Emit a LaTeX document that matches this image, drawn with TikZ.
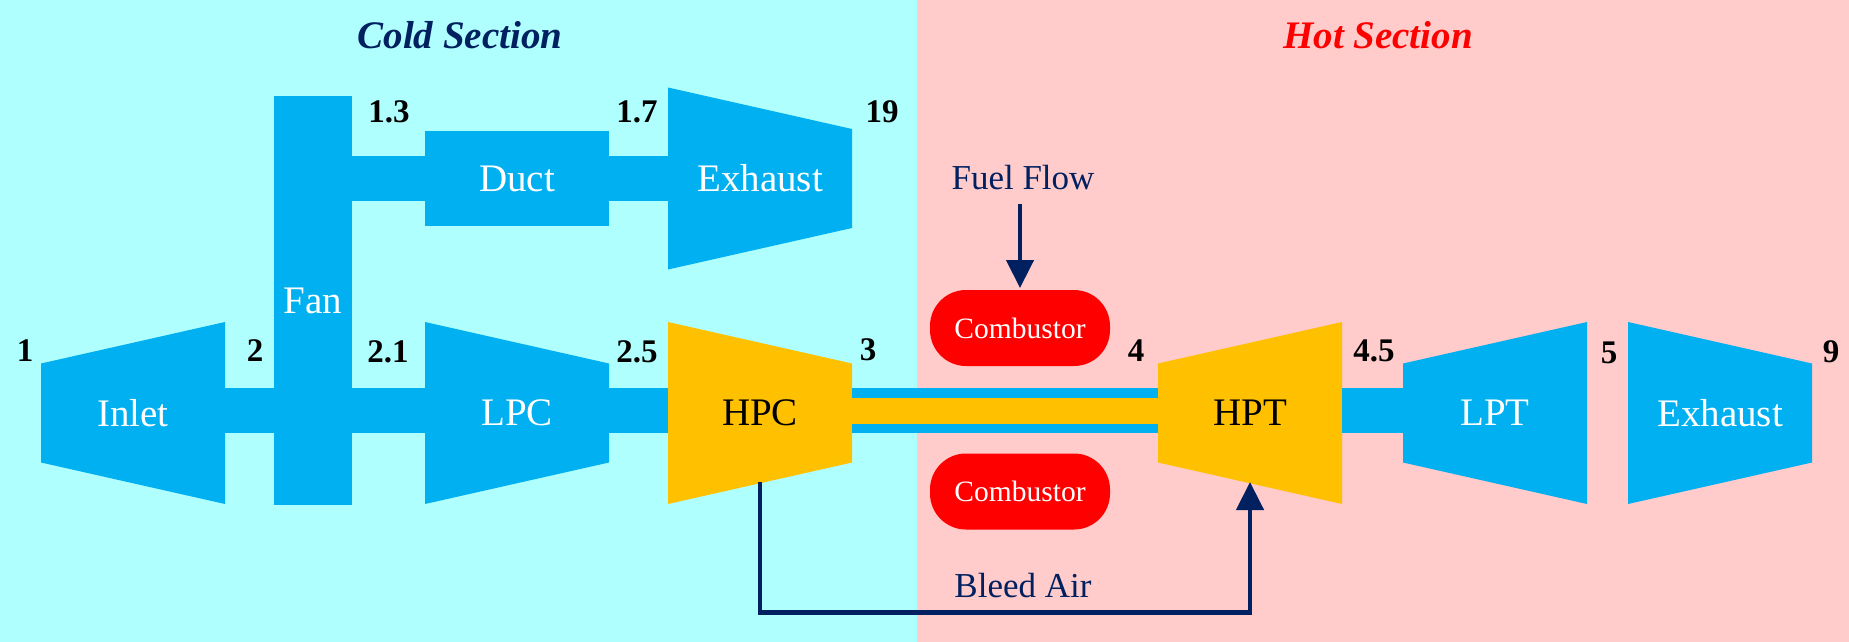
\documentclass[tikz,border=0pt]{standalone}
\usepackage{fontspec}
\setmainfont{Liberation Serif}
\usepackage{tikz}
\usetikzlibrary{positioning}
\usetikzlibrary{arrows.meta}
\definecolor{ColdFill}{HTML}{AFFFFF}
\definecolor{HotFill}{HTML}{FFCBCB}
\definecolor{SpoolBlue}{HTML}{00B0F0}
\definecolor{CoreAmber}{HTML}{FFC000}
\definecolor{DeepNavy}{HTML}{002060}
\tikzset{
  section/.style={rectangle, anchor=north west, minimum height=642pt, inner sep=0pt, outer sep=0pt},
  title/.style={font=\fontsize{39}{39}\selectfont\bfseries\itshape},
  station/.style={font=\fontsize{33}{33}\selectfont\bfseries, text=black},
  flowtext/.style={font=\fontsize{35}{35}\selectfont, text=DeepNavy, outer sep=10pt},
  partname/.style={text=white, font=\fontsize{39}{39}\selectfont},
  tube/.style={rectangle, minimum width=184pt, minimum height=182pt, inner sep=0pt, outer sep=0pt, partname},
  widening/.style={tube, path picture={\fill[#1] ([yshift=-41.5pt]path picture bounding box.north west)
    -- (path picture bounding box.north east) -- (path picture bounding box.south east)
    -- ([yshift=41.5pt]path picture bounding box.south west) -- cycle;}},
  widening/.default=SpoolBlue,
  narrowing/.style={tube, path picture={\fill[#1] (path picture bounding box.north west)
    -- ([yshift=-41.5pt]path picture bounding box.north east) -- ([yshift=41.5pt]path picture bounding box.south east)
    -- (path picture bounding box.south west) -- cycle;}},
  narrowing/.default=SpoolBlue,
  corename/.style={text=black},
  block/.style={rectangle, inner sep=0pt, outer sep=0pt, fill=SpoolBlue, partname},
  burner/.style={rectangle, rounded corners=36pt, minimum width=180pt, minimum height=76pt, inner sep=0pt, outer sep=0pt,
    fill=red, text=white, font=\fontsize{29.5}{30}\selectfont},
  shaft/.style={line width=45pt, color=SpoolBlue},
  core/.style={line width=26pt, color=CoreAmber},
  flow/.style={line width=4.5pt, color=DeepNavy, -{Triangle[width=27pt,length=28pt]}},
}
\begin{document}
\begin{tikzpicture}[x=1pt, y=-1pt]
\useasboundingbox (0,0) rectangle (1849,642);
\node[section, fill=ColdFill, minimum width=917pt] (cold) at (0,0) {};
\node[section, fill=HotFill, minimum width=932pt] (hot) at (917,0) {};
\node[title, text=DeepNavy] (coldname) at (460,35) {Cold Section};
\node[title, text=red] (hotname) at (1378,35) {Hot Section};
% main row
\node[widening] (inlet) at (133,413) {Inlet};
\node[block, right=49pt of inlet, yshift=112.5pt, minimum width=78pt, minimum height=409pt] (fan) {Fan};
\node[narrowing, right=200pt of inlet] (lpc) {LPC};
\node[narrowing=CoreAmber, corename, right=59pt of lpc] (hpc) {HPC};
\node[widening=CoreAmber, corename, right=306pt of hpc] (hpt) {HPT};
\node[widening, right=61pt of hpt] (lpt) {LPT};
\node[narrowing, right=41pt of lpt] (nozzle) {Exhaust};
% bypass row
\node[block, minimum width=184pt, minimum height=95pt] (bypass) at (517,178.5) {Duct};
\node[narrowing, right=59pt of bypass] (fanexit) {Exhaust};
% combustors
\node[burner] (burnera) at (1020,328) {Combustor};
\node[burner] (burnerb) at (1020,491.5) {Combustor};
% shafts
\coordinate (axis) at (0,410.5);
\draw[shaft] (inlet.east |- axis) -- (fan.west |- axis);
\draw[shaft] (fan.east |- axis) -- (lpc.west |- axis);
\draw[shaft] (lpc.east |- axis) -- (hpc.west |- axis);
\draw[shaft] (hpc.east |- axis) -- (hpt.west |- axis);
\draw[core] (hpc.east |- axis) -- (hpt.west |- axis);
\draw[shaft] (hpt.east |- axis) -- (lpt.west |- axis);
\draw[shaft] (fan.east |- bypass.west) -- (bypass.west);
\draw[shaft] (bypass.east) -- (fanexit.west);
% fuel and bleed
\node[flowtext] (fuel) at (1023,178) {Fuel Flow};
\node[flowtext] (bleed) at (1023,586) {Bleed Air};
\coordinate (bleedturn) at (760.5,612.5);
\draw[flow, shorten >=2pt] (burnera.north |- fuel.south) -- (burnera.north);
\draw[flow] ([yshift=22pt]hpc.south) -- (hpc.south |- bleedturn) -| ([yshift=22pt]hpt.south);
% stations
\node[station] (s1) at (25,351) {1};
\node[station] (s2) at (255,351) {2};
\node[station] (s13) at (389,112) {1.3};
\node[station] (s17) at (637,112) {1.7};
\node[station] (s19) at (882,112) {19};
\node[station] (s21) at (388,352) {2.1};
\node[station] (s25) at (637,352) {2.5};
\node[station] (s3) at (868,350) {3};
\node[station] (s4) at (1136,351) {4};
\node[station] (s45) at (1374,351) {4.5};
\node[station] (s5) at (1609,353) {5};
\node[station] (s9) at (1831,352) {9};
\end{tikzpicture}
\end{document}
